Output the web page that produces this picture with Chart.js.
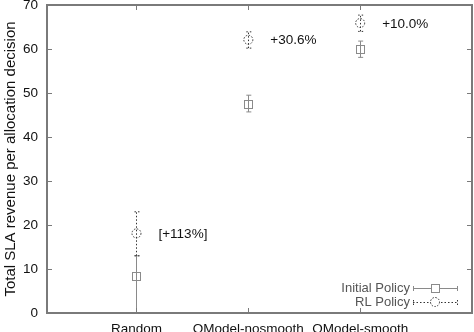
<!DOCTYPE html>
<html>
<head>
<meta charset="utf-8">
<script src="https://cdn.jsdelivr.net/npm/chart.js@4/dist/chart.umd.min.js"></script>
<style>
  html, body { margin: 0; padding: 0; background: #fff; }
  #wrap { width: 474px; height: 332px; }
</style>
</head>
<body>
<div id="wrap"><canvas id="c"></canvas></div>
<script>
const categories = ["Random", "QModel-nosmooth", "QModel-smooth"];
const categoryX = [1, 2, 3];
const initialMean = [8.5, 47.6, 59.9];
const initialLow = [0, 45.7, 58.1];
const initialHigh = [13, 49.5, 61.8];
const rlMean = [18.1, 62.1, 65.9];
const rlLow = [13, 60.2, 64.0];
const rlHigh = [23, 63.9, 67.7];
const gains = ["[+113%]", "+30.6%", "+10.0%"];
const yTicks = [0, 10, 20, 30, 40, 50, 60, 70];

const FONT = "'Liberation Sans', Arial, sans-serif";
const frameColor = "#7a7a7a";
const initialColor = "#8a8a8a";
const rlColor = "#333333";

function drawSquare(ctx, x, y, s, color) {
    ctx.strokeStyle = color;
    ctx.lineWidth = 1;
    ctx.setLineDash([]);
    ctx.strokeRect(Math.round(x - s / 2) + 0.5, Math.round(y - s / 2) + 0.5, s, s);
}
function drawCircle(ctx, x, y, r, color) {
    ctx.strokeStyle = color;
    ctx.lineWidth = 1;
    ctx.setLineDash([1.5, 1.5]);
    ctx.beginPath();
    ctx.arc(x, y, r, 0, Math.PI * 2);
    ctx.stroke();
    ctx.setLineDash([]);
}
function errorBar(ctx, x, y1, y2, color, dashed) {
    ctx.strokeStyle = color;
    ctx.lineWidth = 1;
    ctx.setLineDash(dashed ? [1.5, 2] : []);
    ctx.beginPath();
    ctx.moveTo(Math.round(x) + 0.5, y1);
    ctx.lineTo(Math.round(x) + 0.5, y2);
    ctx.moveTo(x - 2, y1); ctx.lineTo(x + 3, y1);
    ctx.moveTo(x - 2, y2); ctx.lineTo(x + 3, y2);
    ctx.stroke();
    ctx.setLineDash([]);
}

const decorations = {
    id: "decorations",
    afterDatasetsDraw(chart) {
        const { ctx, chartArea: a, scales: { x, y } } = chart;
        ctx.save();
        // error bars
        for (let i = 0; i < categoryX.length; i++) {
            const px = x.getPixelForValue(categoryX[i]);
            errorBar(ctx, px, y.getPixelForValue(initialLow[i]), y.getPixelForValue(initialHigh[i]), initialColor, false);
            errorBar(ctx, px, y.getPixelForValue(rlLow[i]), y.getPixelForValue(rlHigh[i]), rlColor, true);
        }
        // inward ticks
        ctx.strokeStyle = frameColor;
        ctx.lineWidth = 1;
        ctx.beginPath();
        yTicks.forEach(v => {
            const py = Math.round(y.getPixelForValue(v)) + 0.5;
            ctx.moveTo(a.left, py); ctx.lineTo(a.left + 5, py);
            ctx.moveTo(a.right, py); ctx.lineTo(a.right - 5, py);
        });
        categoryX.forEach(v => {
            const px = Math.round(x.getPixelForValue(v)) + 0.5;
            ctx.moveTo(px, a.bottom); ctx.lineTo(px, a.bottom - 5);
            ctx.moveTo(px, a.top); ctx.lineTo(px, a.top + 5);
        });
        ctx.stroke();
        // frame
        ctx.lineWidth = 2;
        ctx.strokeRect(a.left, a.top, a.right - a.left, a.bottom - a.top);
        // gain labels
        ctx.fillStyle = "#111";
        ctx.font = "13.5px " + FONT;
        ctx.textBaseline = "middle";
        ctx.textAlign = "left";
        for (let i = 0; i < categoryX.length; i++) {
            ctx.fillText(gains[i], x.getPixelForValue(categoryX[i]) + 22, y.getPixelForValue(rlMean[i]) + 1);
        }
        // legend
        ctx.font = "13px " + FONT;
        ctx.textAlign = "right";
        ctx.fillStyle = "#555";
        const lx = a.right - 62, ly1 = a.bottom - 25, ly2 = a.bottom - 11;
        ctx.fillText("Initial Policy", lx, ly1);
        ctx.fillText("RL Policy", lx, ly2);
        const sx1 = lx + 3, sx2 = lx + 47, mid = (sx1 + sx2) / 2;
        ctx.strokeStyle = initialColor;
        ctx.lineWidth = 1;
        ctx.beginPath();
        ctx.moveTo(sx1, ly1 + 0.5); ctx.lineTo(sx2, ly1 + 0.5);
        ctx.moveTo(sx1 + 0.5, ly1 - 2); ctx.lineTo(sx1 + 0.5, ly1 + 3);
        ctx.moveTo(sx2 + 0.5, ly1 - 2); ctx.lineTo(sx2 + 0.5, ly1 + 3);
        ctx.stroke();
        ctx.fillStyle = "#fff";
        ctx.fillRect(mid - 4, ly1 - 4, 8, 8);
        drawSquare(ctx, mid, ly1, 8, initialColor);
        ctx.strokeStyle = rlColor;
        ctx.setLineDash([1.5, 2]);
        ctx.beginPath();
        ctx.moveTo(sx1, ly2 + 0.5); ctx.lineTo(sx2, ly2 + 0.5);
        ctx.moveTo(sx1 + 0.5, ly2 - 2); ctx.lineTo(sx1 + 0.5, ly2 + 3);
        ctx.moveTo(sx2 + 0.5, ly2 - 2); ctx.lineTo(sx2 + 0.5, ly2 + 3);
        ctx.stroke();
        ctx.setLineDash([]);
        ctx.fillStyle = "#fff";
        ctx.beginPath(); ctx.arc(mid, ly2, 4.5, 0, Math.PI * 2); ctx.fill();
        drawCircle(ctx, mid, ly2, 4.5, rlColor);
        ctx.restore();
    }
};

const markers = {
    id: "markers",
    afterDatasetsDraw(chart) {
        const { ctx, scales: { x, y } } = chart;
        ctx.save();
        for (let i = 0; i < categoryX.length; i++) {
            const px = x.getPixelForValue(categoryX[i]);
            drawSquare(ctx, px, y.getPixelForValue(initialMean[i]), 8, initialColor);
            drawCircle(ctx, px, y.getPixelForValue(rlMean[i]), 4.5, rlColor);
        }
        ctx.restore();
    }
};

new Chart(document.getElementById("c"), {
    type: "scatter",
    data: {
        datasets: [
            {
                label: "Initial Policy",
                data: categoryX.map((v, i) => ({ x: v, y: initialMean[i] })),
                pointRadius: 0,
                borderColor: initialColor
            },
            {
                label: "RL Policy",
                data: categoryX.map((v, i) => ({ x: v, y: rlMean[i] })),
                pointRadius: 0,
                borderColor: rlColor
            }
        ]
    },
    options: {
        responsive: true,
        maintainAspectRatio: false,
        animation: false,
        layout: { padding: { top: 5, right: 2, left: 0, bottom: 0 } },
        plugins: { legend: { display: false }, tooltip: { enabled: false } },
        scales: {
            x: {
                type: "linear",
                min: 0.2,
                max: 4,
                afterBuildTicks: s => { s.ticks = categoryX.map(v => ({ value: v })); },
                afterFit: s => { s.height = 19; s.paddingLeft = 0; s.paddingRight = 0; },
                grid: { display: false, drawTicks: false },
                border: { display: false },
                ticks: {
                    padding: 8,
                    color: "#111",
                    font: { family: FONT, size: 13.5 },
                    callback: v => categories[categoryX.indexOf(v)] || ""
                }
            },
            y: {
                min: 0,
                max: 70,
                afterBuildTicks: s => { s.ticks = yTicks.map(v => ({ value: v })); },
                afterFit: s => { s.width = 47; s.paddingTop = 0; s.paddingBottom = 0; },
                grid: { display: false, drawTicks: false },
                border: { display: false },
                ticks: { padding: 9, color: "#111", font: { family: FONT, size: 13.5 } },
                title: {
                    display: true,
                    text: "Total SLA revenue per allocation decision",
                    color: "#111",
                    font: { family: FONT, size: 15 },
                    padding: { top: 2, bottom: 0 }
                }
            }
        }
    },
    plugins: [decorations, markers]
});
</script>
</body>
</html>
